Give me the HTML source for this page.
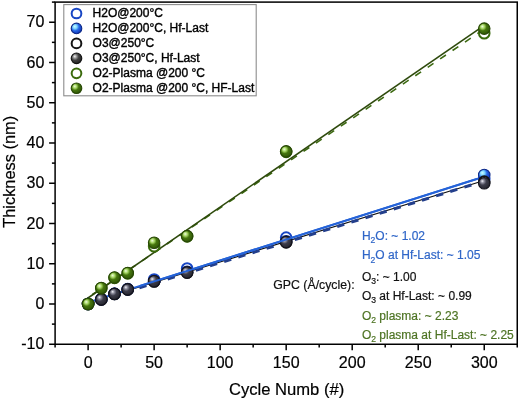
<!DOCTYPE html>
<html><head><meta charset="utf-8"><title>Thickness vs Cycle Number</title>
<style>
html,body{margin:0;padding:0;background:#fff;}
svg{display:block;}
svg text{font-family:"Liberation Sans", Arial, Helvetica, sans-serif;stroke-width:0.2px;}
</style></head>
<body>
<svg width="520" height="400" viewBox="0 0 520 400" fill="#000">
<rect width="520" height="400" fill="#fff"/>

<defs>
 <radialGradient id="gB" cx="0.4" cy="0.38" r="0.66" fx="0.33" fy="0.31">
  <stop offset="0" stop-color="#d0ffff"/>
  <stop offset="0.3" stop-color="#7ad4ff"/>
  <stop offset="0.56" stop-color="#2666e6"/>
  <stop offset="0.85" stop-color="#1644c4"/>
  <stop offset="1" stop-color="#0c2a90"/>
 </radialGradient>
 <radialGradient id="gK" cx="0.4" cy="0.38" r="0.66" fx="0.33" fy="0.31">
  <stop offset="0" stop-color="#f4f4fa"/>
  <stop offset="0.22" stop-color="#8c8c9c"/>
  <stop offset="0.48" stop-color="#3c3c4a"/>
  <stop offset="0.85" stop-color="#2a2a34"/>
  <stop offset="1" stop-color="#16161e"/>
 </radialGradient>
 <radialGradient id="gK2" cx="0.4" cy="0.38" r="0.66" fx="0.33" fy="0.31">
  <stop offset="0" stop-color="#f6f6f6"/>
  <stop offset="0.27" stop-color="#909090"/>
  <stop offset="0.52" stop-color="#404040"/>
  <stop offset="0.85" stop-color="#2a2a2a"/>
  <stop offset="1" stop-color="#141414"/>
 </radialGradient>
 <radialGradient id="gG" cx="0.4" cy="0.38" r="0.66" fx="0.33" fy="0.31">
  <stop offset="0" stop-color="#f0fde0"/>
  <stop offset="0.27" stop-color="#a4d462"/>
  <stop offset="0.52" stop-color="#46760e"/>
  <stop offset="0.85" stop-color="#355e08"/>
  <stop offset="1" stop-color="#2a4a06"/>
 </radialGradient>
</defs>

<clipPath id="clip"><rect x="55.1" y="2.1" width="462.15" height="342.15"/></clipPath>
<g clip-path="url(#clip)">
<line x1="88.11" y1="302.6" x2="484.24" y2="180.5" stroke="#111" stroke-width="1.2"/>
<line x1="88.11" y1="303.6" x2="484.24" y2="181.0" stroke="#233f8c" stroke-width="3" stroke-dasharray="7.4 7.39" stroke-dashoffset="5.5"/>
<line x1="88.11" y1="302.4" x2="484.24" y2="176.6" stroke="#2563d8" stroke-width="2.0"/>
<line x1="84.00" y1="300.23" x2="484.24" y2="29.0" stroke="#3d6a12" stroke-width="1.6" stroke-dasharray="7 8" stroke-dashoffset="4.8"/>
<line x1="84.00" y1="300.73" x2="484.24" y2="25.3" stroke="#2e4a0c" stroke-width="1.6"/>
<circle cx="88.11" cy="304.00" r="5.30" fill="#fff" stroke="#1846c4" stroke-width="2.0"/>
<circle cx="101.31" cy="299.17" r="5.30" fill="#fff" stroke="#1846c4" stroke-width="2.0"/>
<circle cx="114.52" cy="293.73" r="5.30" fill="#fff" stroke="#1846c4" stroke-width="2.0"/>
<circle cx="127.72" cy="289.10" r="5.30" fill="#fff" stroke="#1846c4" stroke-width="2.0"/>
<circle cx="154.13" cy="279.44" r="5.30" fill="#fff" stroke="#1846c4" stroke-width="2.0"/>
<circle cx="187.14" cy="268.57" r="5.30" fill="#fff" stroke="#1846c4" stroke-width="2.0"/>
<circle cx="286.18" cy="237.58" r="5.30" fill="#fff" stroke="#1846c4" stroke-width="2.0"/>
<circle cx="484.24" cy="179.01" r="5.30" fill="#fff" stroke="#1846c4" stroke-width="2.0"/>
<circle cx="88.11" cy="304.00" r="5.75" fill="url(#gB)" stroke="#0c2888" stroke-width="1.1"/>
<circle cx="101.31" cy="299.41" r="5.75" fill="url(#gB)" stroke="#0c2888" stroke-width="1.1"/>
<circle cx="114.52" cy="293.89" r="5.75" fill="url(#gB)" stroke="#0c2888" stroke-width="1.1"/>
<circle cx="127.72" cy="289.39" r="5.75" fill="url(#gB)" stroke="#0c2888" stroke-width="1.1"/>
<circle cx="154.13" cy="281.05" r="5.75" fill="url(#gB)" stroke="#0c2888" stroke-width="1.1"/>
<circle cx="187.14" cy="271.79" r="5.75" fill="url(#gB)" stroke="#0c2888" stroke-width="1.1"/>
<circle cx="286.18" cy="241.20" r="5.75" fill="url(#gB)" stroke="#0c2888" stroke-width="1.1"/>
<circle cx="484.24" cy="174.99" r="5.75" fill="url(#gB)" stroke="#0c2888" stroke-width="1.1"/>
<circle cx="88.11" cy="304.00" r="5.30" fill="#fff" stroke="#141414" stroke-width="2.0"/>
<circle cx="101.31" cy="299.57" r="5.30" fill="#fff" stroke="#141414" stroke-width="2.0"/>
<circle cx="114.52" cy="293.93" r="5.30" fill="#fff" stroke="#141414" stroke-width="2.0"/>
<circle cx="127.72" cy="289.51" r="5.30" fill="#fff" stroke="#141414" stroke-width="2.0"/>
<circle cx="154.13" cy="281.46" r="5.30" fill="#fff" stroke="#141414" stroke-width="2.0"/>
<circle cx="187.14" cy="272.60" r="5.30" fill="#fff" stroke="#141414" stroke-width="2.0"/>
<circle cx="286.18" cy="242.41" r="5.30" fill="#fff" stroke="#141414" stroke-width="2.0"/>
<circle cx="484.24" cy="181.63" r="5.30" fill="#fff" stroke="#141414" stroke-width="2.0"/>
<circle cx="88.11" cy="304.00" r="5.75" fill="url(#gK)" stroke="#14141e" stroke-width="1.1"/>
<circle cx="101.31" cy="299.41" r="5.75" fill="url(#gK)" stroke="#14141e" stroke-width="1.1"/>
<circle cx="114.52" cy="293.89" r="5.75" fill="url(#gK)" stroke="#14141e" stroke-width="1.1"/>
<circle cx="127.72" cy="289.39" r="5.75" fill="url(#gK)" stroke="#14141e" stroke-width="1.1"/>
<circle cx="154.13" cy="281.21" r="5.75" fill="url(#gK)" stroke="#14141e" stroke-width="1.1"/>
<circle cx="187.14" cy="272.48" r="5.75" fill="url(#gK)" stroke="#14141e" stroke-width="1.1"/>
<circle cx="286.18" cy="242.01" r="5.75" fill="url(#gK)" stroke="#14141e" stroke-width="1.1"/>
<circle cx="484.24" cy="183.24" r="5.75" fill="url(#gK)" stroke="#14141e" stroke-width="1.1"/>
<line x1="140.00" y1="285.92" x2="477.50" y2="178.74" stroke="#2563d8" stroke-width="2.0"/>
<circle cx="88.11" cy="304.00" r="5.30" fill="#fff" stroke="#3a6a0c" stroke-width="2.0"/>
<circle cx="101.31" cy="288.30" r="5.30" fill="#fff" stroke="#3a6a0c" stroke-width="2.0"/>
<circle cx="114.52" cy="277.83" r="5.30" fill="#fff" stroke="#3a6a0c" stroke-width="2.0"/>
<circle cx="127.72" cy="273.40" r="5.30" fill="#fff" stroke="#3a6a0c" stroke-width="2.0"/>
<circle cx="154.13" cy="246.23" r="5.30" fill="#fff" stroke="#3a6a0c" stroke-width="2.0"/>
<circle cx="187.14" cy="236.37" r="5.30" fill="#fff" stroke="#3a6a0c" stroke-width="2.0"/>
<circle cx="286.18" cy="151.84" r="5.30" fill="#fff" stroke="#3a6a0c" stroke-width="2.0"/>
<circle cx="484.24" cy="33.30" r="5.30" fill="#fff" stroke="#3a6a0c" stroke-width="2.0"/>
<circle cx="88.11" cy="304.00" r="5.75" fill="url(#gG)" stroke="#284806" stroke-width="1.1"/>
<circle cx="101.31" cy="288.02" r="5.75" fill="url(#gG)" stroke="#284806" stroke-width="1.1"/>
<circle cx="114.52" cy="277.51" r="5.75" fill="url(#gG)" stroke="#284806" stroke-width="1.1"/>
<circle cx="127.72" cy="273.00" r="5.75" fill="url(#gG)" stroke="#284806" stroke-width="1.1"/>
<circle cx="154.13" cy="242.69" r="5.75" fill="url(#gG)" stroke="#284806" stroke-width="1.1"/>
<circle cx="187.14" cy="236.09" r="5.75" fill="url(#gG)" stroke="#284806" stroke-width="1.1"/>
<circle cx="286.18" cy="151.40" r="5.75" fill="url(#gG)" stroke="#284806" stroke-width="1.1"/>
<circle cx="484.24" cy="28.59" r="5.75" fill="url(#gG)" stroke="#284806" stroke-width="1.1"/>
</g>
<rect x="55.1" y="2.1" width="462.15" height="342.15" fill="none" stroke="#000" stroke-width="1.5"/>
<line x1="49.10" y1="344.25" x2="55.10" y2="344.25" stroke="#000" stroke-width="1.5"/>
<text stroke="#000" fill="#000" x="44.3" y="349.45" text-anchor="end" font-size="16">-10</text>
<line x1="49.10" y1="304.00" x2="55.10" y2="304.00" stroke="#000" stroke-width="1.5"/>
<text stroke="#000" fill="#000" x="44.3" y="309.20" text-anchor="end" font-size="16">0</text>
<line x1="49.10" y1="263.74" x2="55.10" y2="263.74" stroke="#000" stroke-width="1.5"/>
<text stroke="#000" fill="#000" x="44.3" y="268.94" text-anchor="end" font-size="16">10</text>
<line x1="49.10" y1="223.49" x2="55.10" y2="223.49" stroke="#000" stroke-width="1.5"/>
<text stroke="#000" fill="#000" x="44.3" y="228.69" text-anchor="end" font-size="16">20</text>
<line x1="49.10" y1="183.24" x2="55.10" y2="183.24" stroke="#000" stroke-width="1.5"/>
<text stroke="#000" fill="#000" x="44.3" y="188.44" text-anchor="end" font-size="16">30</text>
<line x1="49.10" y1="142.99" x2="55.10" y2="142.99" stroke="#000" stroke-width="1.5"/>
<text stroke="#000" fill="#000" x="44.3" y="148.19" text-anchor="end" font-size="16">40</text>
<line x1="49.10" y1="102.73" x2="55.10" y2="102.73" stroke="#000" stroke-width="1.5"/>
<text stroke="#000" fill="#000" x="44.3" y="107.93" text-anchor="end" font-size="16">50</text>
<line x1="49.10" y1="62.48" x2="55.10" y2="62.48" stroke="#000" stroke-width="1.5"/>
<text stroke="#000" fill="#000" x="44.3" y="67.68" text-anchor="end" font-size="16">60</text>
<line x1="49.10" y1="22.23" x2="55.10" y2="22.23" stroke="#000" stroke-width="1.5"/>
<text stroke="#000" fill="#000" x="44.3" y="27.43" text-anchor="end" font-size="16">70</text>
<line x1="51.90" y1="324.12" x2="55.10" y2="324.12" stroke="#000" stroke-width="1.5"/>
<line x1="51.90" y1="283.87" x2="55.10" y2="283.87" stroke="#000" stroke-width="1.5"/>
<line x1="51.90" y1="243.62" x2="55.10" y2="243.62" stroke="#000" stroke-width="1.5"/>
<line x1="51.90" y1="203.36" x2="55.10" y2="203.36" stroke="#000" stroke-width="1.5"/>
<line x1="51.90" y1="163.11" x2="55.10" y2="163.11" stroke="#000" stroke-width="1.5"/>
<line x1="51.90" y1="122.86" x2="55.10" y2="122.86" stroke="#000" stroke-width="1.5"/>
<line x1="51.90" y1="82.61" x2="55.10" y2="82.61" stroke="#000" stroke-width="1.5"/>
<line x1="51.90" y1="42.35" x2="55.10" y2="42.35" stroke="#000" stroke-width="1.5"/>
<line x1="51.90" y1="2.10" x2="55.10" y2="2.10" stroke="#000" stroke-width="1.5"/>
<line x1="88.11" y1="344.25" x2="88.11" y2="350.25" stroke="#000" stroke-width="1.5"/>
<text stroke="#000" fill="#000" x="88.11" y="367.6" text-anchor="middle" font-size="16">0</text>
<line x1="154.13" y1="344.25" x2="154.13" y2="350.25" stroke="#000" stroke-width="1.5"/>
<text stroke="#000" fill="#000" x="154.13" y="367.6" text-anchor="middle" font-size="16">50</text>
<line x1="220.15" y1="344.25" x2="220.15" y2="350.25" stroke="#000" stroke-width="1.5"/>
<text stroke="#000" fill="#000" x="220.15" y="367.6" text-anchor="middle" font-size="16">100</text>
<line x1="286.18" y1="344.25" x2="286.18" y2="350.25" stroke="#000" stroke-width="1.5"/>
<text stroke="#000" fill="#000" x="286.18" y="367.6" text-anchor="middle" font-size="16">150</text>
<line x1="352.20" y1="344.25" x2="352.20" y2="350.25" stroke="#000" stroke-width="1.5"/>
<text stroke="#000" fill="#000" x="352.20" y="367.6" text-anchor="middle" font-size="16">200</text>
<line x1="418.22" y1="344.25" x2="418.22" y2="350.25" stroke="#000" stroke-width="1.5"/>
<text stroke="#000" fill="#000" x="418.22" y="367.6" text-anchor="middle" font-size="16">250</text>
<line x1="484.24" y1="344.25" x2="484.24" y2="350.25" stroke="#000" stroke-width="1.5"/>
<text stroke="#000" fill="#000" x="484.24" y="367.6" text-anchor="middle" font-size="16">300</text>
<line x1="55.10" y1="344.25" x2="55.10" y2="347.45" stroke="#000" stroke-width="1.5"/>
<line x1="121.12" y1="344.25" x2="121.12" y2="347.45" stroke="#000" stroke-width="1.5"/>
<line x1="187.14" y1="344.25" x2="187.14" y2="347.45" stroke="#000" stroke-width="1.5"/>
<line x1="253.16" y1="344.25" x2="253.16" y2="347.45" stroke="#000" stroke-width="1.5"/>
<line x1="319.19" y1="344.25" x2="319.19" y2="347.45" stroke="#000" stroke-width="1.5"/>
<line x1="385.21" y1="344.25" x2="385.21" y2="347.45" stroke="#000" stroke-width="1.5"/>
<line x1="451.23" y1="344.25" x2="451.23" y2="347.45" stroke="#000" stroke-width="1.5"/>
<line x1="517.25" y1="344.25" x2="517.25" y2="347.45" stroke="#000" stroke-width="1.5"/>
<text stroke="#000" fill="#000" x="286.6" y="395.1" text-anchor="middle" font-size="16.6">Cycle Numb (#)</text>
<text stroke="#000" fill="#000" transform="translate(14.7 171.8) rotate(-90)" text-anchor="middle" font-size="16.4">Thickness (nm)</text>
<rect x="63.8" y="4.6" width="192.4" height="91.2" fill="#fff" stroke="#8c8c8c" stroke-width="1.1"/>
<circle cx="76.50" cy="13.50" r="4.85" fill="#fff" stroke="#1846c4" stroke-width="2.0"/>
<text stroke="#000" fill="#000" x="92.6" y="17.40" font-size="12" style="stroke-width:0.38px">H2O@200°C</text>
<circle cx="76.50" cy="28.45" r="5.30" fill="url(#gB)" stroke="#0c2888" stroke-width="1.1"/>
<text stroke="#000" fill="#000" x="92.6" y="32.35" font-size="12" style="stroke-width:0.38px">H2O@200°C, Hf-Last</text>
<circle cx="76.50" cy="43.40" r="4.85" fill="#fff" stroke="#141414" stroke-width="2.0"/>
<text stroke="#000" fill="#000" x="92.6" y="47.30" font-size="12" style="stroke-width:0.38px">O3@250°C</text>
<circle cx="76.50" cy="58.35" r="5.30" fill="url(#gK2)" stroke="#111111" stroke-width="1.1"/>
<text stroke="#000" fill="#000" x="92.6" y="62.25" font-size="12" style="stroke-width:0.38px">O3@250°C, Hf-Last</text>
<circle cx="76.50" cy="73.30" r="4.85" fill="#fff" stroke="#3a6a0c" stroke-width="2.0"/>
<text stroke="#000" fill="#000" x="92.6" y="77.20" font-size="12" style="stroke-width:0.38px">O2-Plasma @200 °C</text>
<circle cx="76.50" cy="88.25" r="5.30" fill="url(#gG)" stroke="#284806" stroke-width="1.1"/>
<text stroke="#000" fill="#000" x="92.6" y="92.15" font-size="12" style="stroke-width:0.38px">O2-Plasma @200 °C, HF-Last</text>
<text stroke="#2f66c8" x="361.9" y="239.7" font-size="12" fill="#2f66c8">H<tspan font-size="8.6" dy="3.3">2</tspan><tspan dy="-3.3">O: ~ 1.02</tspan></text>
<text stroke="#2f66c8" x="361.9" y="259.2" font-size="12" fill="#2f66c8">H<tspan font-size="8.6" dy="3.3">2</tspan><tspan dy="-3.3">O at Hf-Last: ~ 1.05</tspan></text>
<text stroke="#111" x="361.9" y="280.6" font-size="12" fill="#111">O<tspan font-size="8.6" dy="3.3">3</tspan><tspan dy="-3.3">: ~ 1.00</tspan></text>
<text stroke="#111" x="361.9" y="299.9" font-size="12" fill="#111">O<tspan font-size="8.6" dy="3.3">3</tspan><tspan dy="-3.3"> at Hf-Last: ~ 0.99</tspan></text>
<text stroke="#4e7424" x="361.9" y="319.8" font-size="12" fill="#4e7424">O<tspan font-size="8.6" dy="3.3">2</tspan><tspan dy="-3.3"> plasma: ~ 2.23</tspan></text>
<text stroke="#4e7424" x="361.9" y="339.1" font-size="12" fill="#4e7424">O<tspan font-size="8.6" dy="3.3">2</tspan><tspan dy="-3.3"> plasma at Hf-Last: ~ 2.25</tspan></text>
<text stroke="#111" x="273.3" y="288.6" font-size="12.3" fill="#111">GPC (Å/cycle):</text>
</svg>
</body></html>
